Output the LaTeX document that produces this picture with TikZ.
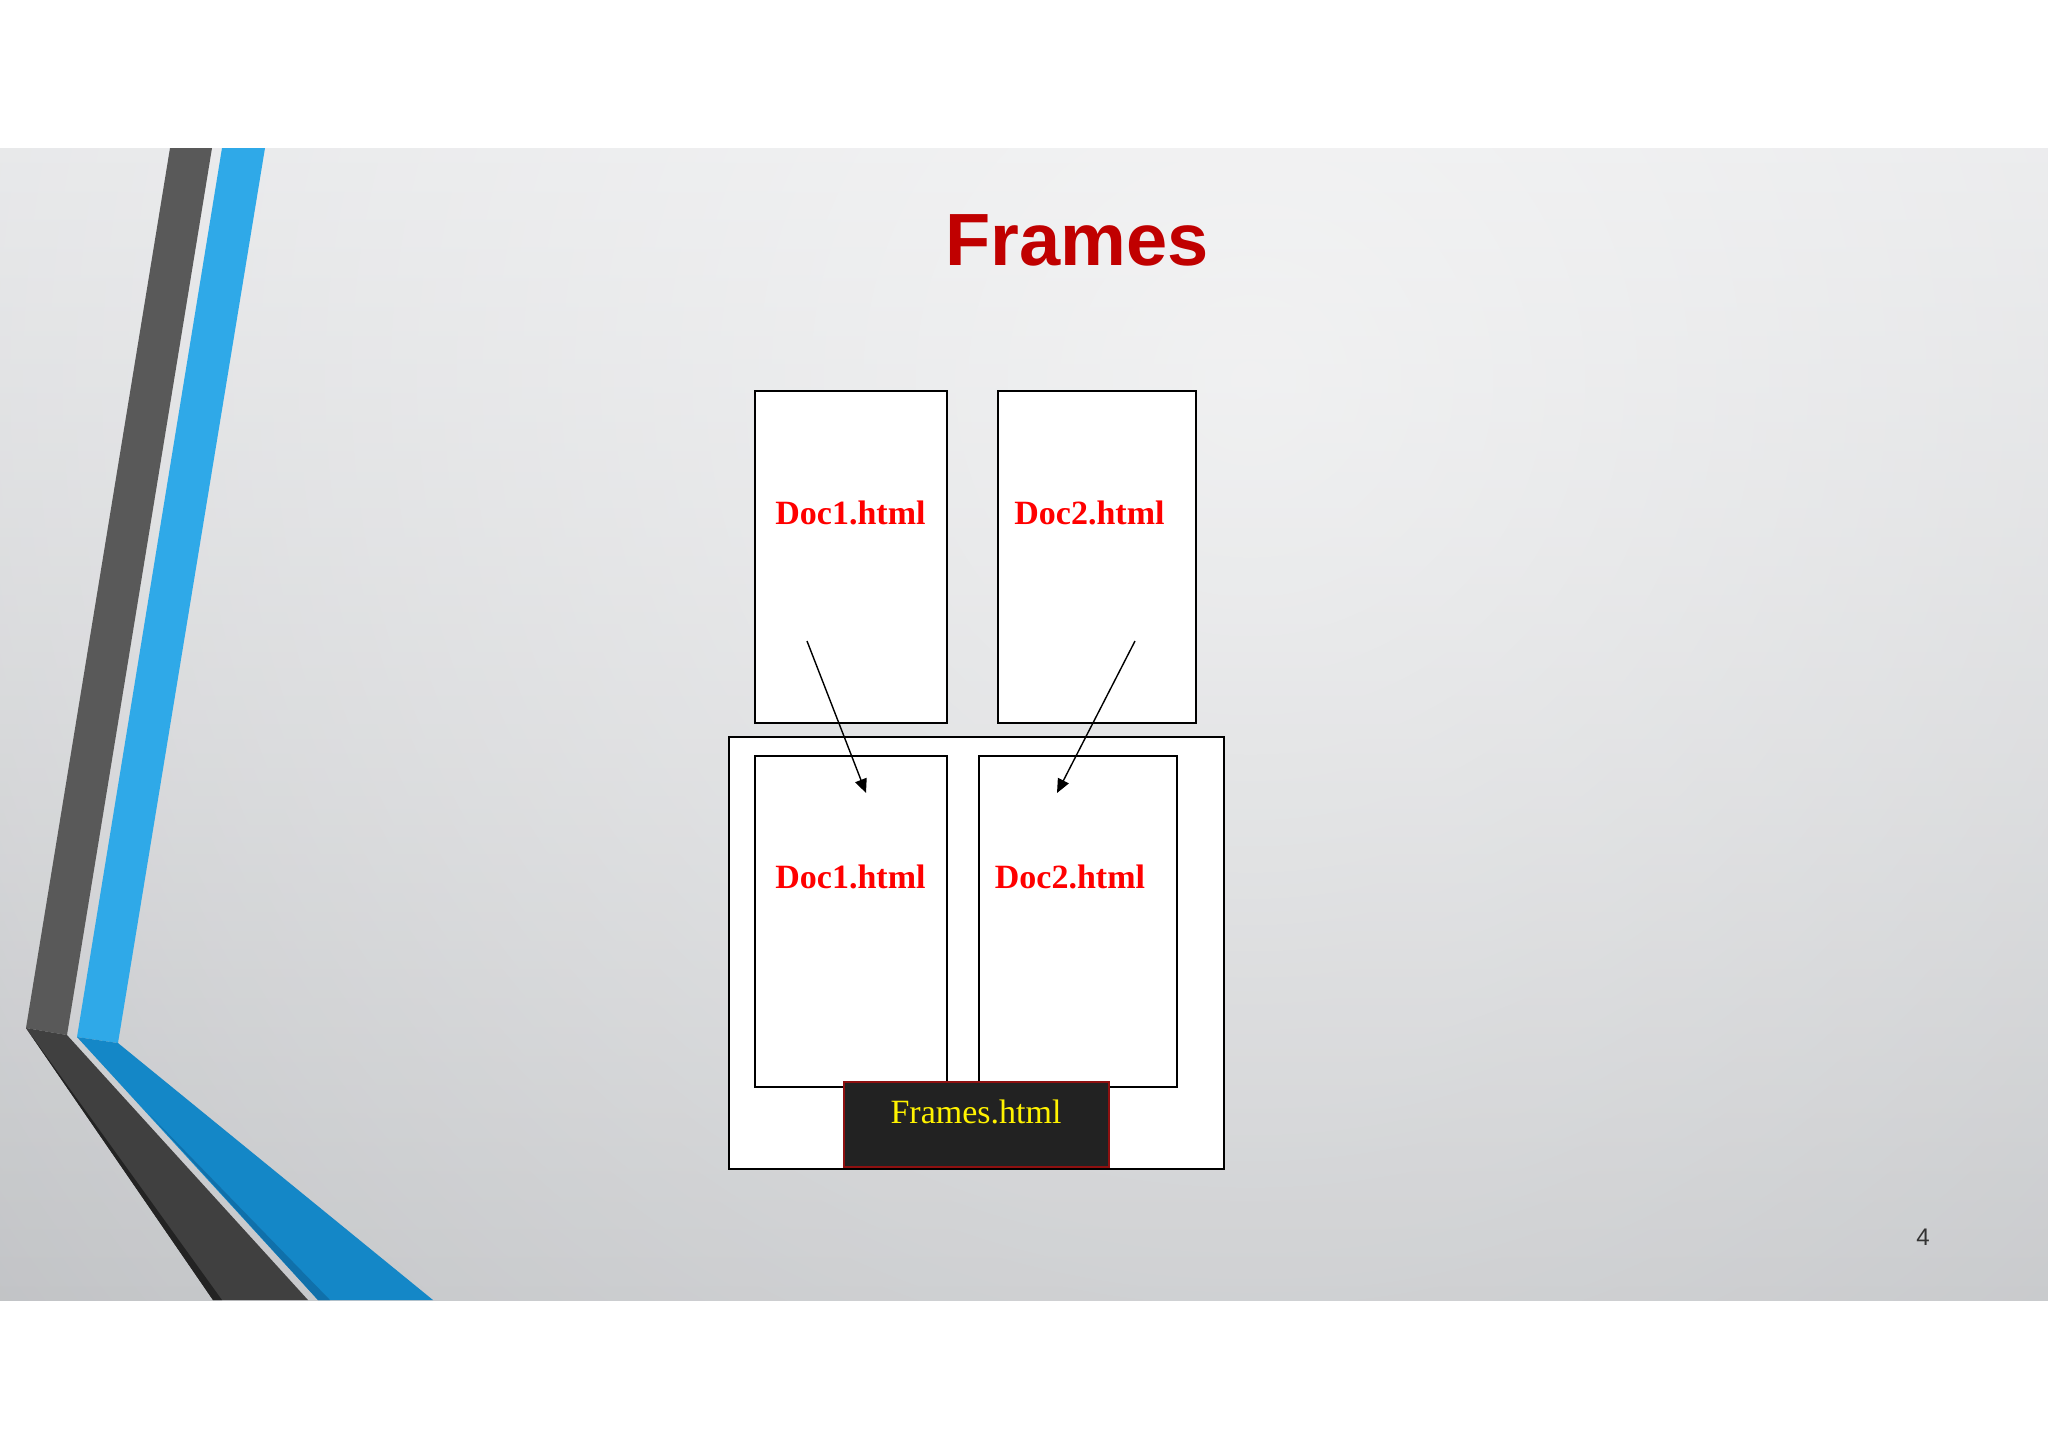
\documentclass[tikz,border=0pt]{standalone}
\usepackage{fontspec}
\setmainfont{Liberation Serif}
\newfontfamily\arialf{Liberation Sans}
\usetikzlibrary{arrows.meta,fadings}
\definecolor{bgtop}{HTML}{E2E3E5}
\definecolor{bgbot}{HTML}{B9BBBE}
\definecolor{darkup}{HTML}{595959}
\definecolor{darklow}{HTML}{404040}
\definecolor{darkedge}{HTML}{232323}
\definecolor{blueup}{HTML}{2FA9E8}
\definecolor{bluelow}{HTML}{1487C7}
\definecolor{blueedge}{HTML}{1070AA}
\definecolor{titlered}{HTML}{C00000}
\definecolor{docred}{HTML}{FF0000}
\definecolor{framefill}{HTML}{222222}
\definecolor{frameborder}{HTML}{8E1010}
\definecolor{pagenum}{HTML}{333333}
\tikzfading[name=glowfade, inner color=transparent!40, outer color=transparent!100]
\begin{document}
\begin{tikzpicture}[x=0.5pt,y=-0.5pt,
  frbox/.style={draw=black,line width=0.9pt,fill=white,inner sep=0pt,anchor=center},
  doclabel/.style={anchor=base,inner sep=0pt,text=docred,font=\fontsize{17}{20}\selectfont\bfseries},
  arr/.style={line width=0.7pt,-{Triangle[length=7pt,width=6pt]}}]
\useasboundingbox (0,0) rectangle (2048,1448);
\fill[white] (0,0) rectangle (2048,1448);
\begin{scope}
\clip (0,148) rectangle (2048,1300);
\shade[top color=bgtop,bottom color=bgbot] (0,148) rectangle (2048,1300);
\fill[white,path fading=glowfade] (1250,380) circle (1000pt);
\end{scope}
% left decoration
\fill[darkup] (170,148) -- (212,148) -- (67,1035) -- (26,1028) -- cycle;
\fill[darklow] (26,1028) -- (67,1035) -- (308,1300) -- (213,1300) -- cycle;
\fill[darkedge] (26,1028) -- (222,1300) -- (213,1300) -- cycle;
\fill[blueup] (222,148) -- (265,148) -- (118,1043) -- (77,1037) -- cycle;
\fill[bluelow] (77,1037) -- (118,1043) -- (433,1300) -- (318,1300) -- cycle;
\fill[blueedge] (150,1115) -- (330,1300) -- (318,1300) -- cycle;
% title
\node[anchor=base,inner sep=0pt,text=titlered,font=\arialf\bfseries\fontsize{37}{44}\selectfont] (title) at (1077,265) {Frames};
% boxes
\node[frbox,minimum width=247.5pt,minimum height=216pt] (outer) at (976.5,953) {};
\node[frbox,minimum width=96pt,minimum height=165.5pt] (d1b) at (851,921.5) {};
\node[frbox,minimum width=99pt,minimum height=165.5pt] (d2b) at (1078,921.5) {};
\node[frbox,minimum width=96pt,minimum height=166pt] (d1t) at (851,557) {};
\node[frbox,minimum width=99pt,minimum height=166pt] (d2t) at (1097,557) {};
% labels
\node[doclabel] (l1t) at (850.5,524) {Doc1.html};
\node[doclabel] (l2t) at (1089.5,524) {Doc2.html};
\node[doclabel] (l1b) at (850.5,888) {Doc1.html};
\node[doclabel] (l2b) at (1070,888) {Doc2.html};
% arrows
\coordinate (a1s) at (807,641);
\coordinate (a1e) at (866,793);
\coordinate (a2s) at (1135,641);
\coordinate (a2e) at (1057,793);
\draw[arr] (a1s) -- (a1e);
\draw[arr] (a2s) -- (a2e);
% frames.html box
\node[draw=frameborder,fill=framefill,line width=0.6pt,inner sep=0pt,minimum width=132.5pt,minimum height=42.5pt] (fr) at (976.5,1124.5) {};
\node[anchor=base,inner sep=0pt,text=yellow,font=\fontsize{17}{20}\selectfont] (frl) at (976,1123) {Frames.html};
% page number
\node[anchor=base,inner sep=0pt,text=pagenum,font=\arialf\fontsize{12}{14}\selectfont] (pg) at (1923,1245) {4};
\end{tikzpicture}
\end{document}
